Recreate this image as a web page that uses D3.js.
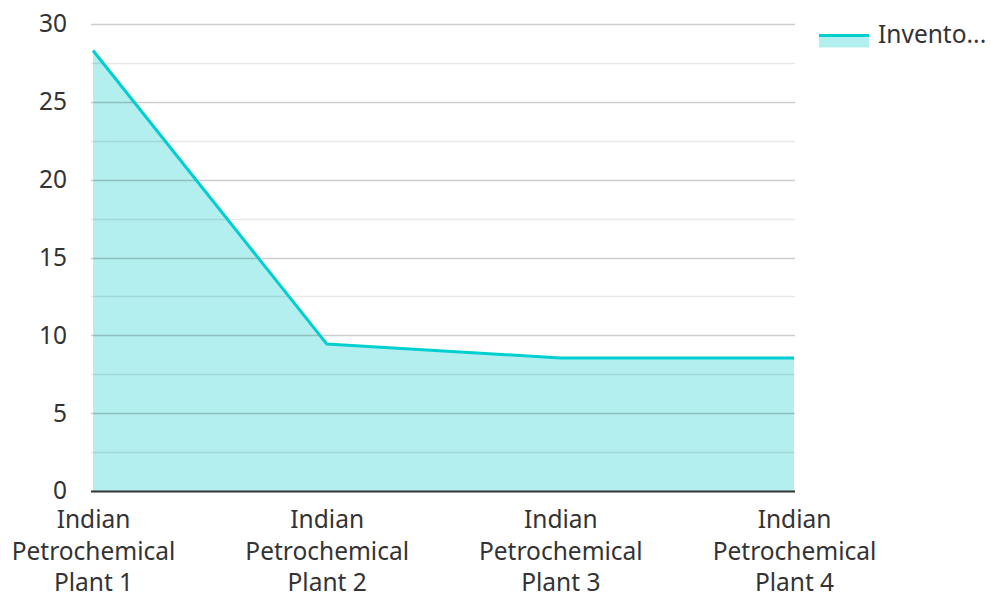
<!DOCTYPE html>
<html>
<head>
<meta charset="utf-8">
<script src="https://cdn.jsdelivr.net/npm/d3@7/dist/d3.min.js"></script>
<style>
  html, body { margin: 0; padding: 0; background: #fff; }
  svg { display: block; font-family: "Noto Sans", "Open Sans", sans-serif; }
</style>
</head>
<body>
<svg id="chart" width="991" height="595"></svg>
<script>
// Inventory per plant
const categories = ["Indian Petrochemical Plant 1", "Indian Petrochemical Plant 2", "Indian Petrochemical Plant 3", "Indian Petrochemical Plant 4"];
const categoryLines = [
  ["Indian", "Petrochemical", "Plant 1"],
  ["Indian", "Petrochemical", "Plant 2"],
  ["Indian", "Petrochemical", "Plant 3"],
  ["Indian", "Petrochemical", "Plant 4"]
];
const inventory = [28.3, 9.45, 8.55, 8.55];
const yTicks = [0, 5, 10, 15, 20, 25, 30];
const yMinorTicks = [2.5, 7.5, 12.5, 17.5, 22.5, 27.5];
const seriesName = "Invento...";

const svg = d3.select("#chart");
const plotLeft = 93, plotRight = 794, plotTop = 24, plotBottom = 491;
const fontSize = 24.5;
const fontFamily = "'Noto Sans', 'Open Sans', sans-serif";
const textColor = "#333";

const x = d3.scalePoint().domain(categories).range([plotLeft, plotRight]).padding(0);
const y = d3.scaleLinear().domain([0, 30]).range([plotBottom, plotTop]);

const lineColor = "#00cfcf";
const fillColor = "#b2efee";

// area fill
const data = categories.map((c, i) => ({ c, v: inventory[i] }));
svg.append("path")
  .datum(data)
  .attr("fill", fillColor)
  .attr("d", d3.area().x(d => x(d.c)).y0(y(0)).y1(d => y(d.v)));

// gridlines over the fill
const grid = svg.append("g");
grid.selectAll("line.minor").data(yMinorTicks).join("line")
  .attr("x1", 91).attr("x2", 795)
  .attr("y1", d => Math.round(y(d)) + 0.5).attr("y2", d => Math.round(y(d)) + 0.5)
  .attr("stroke", "#000").attr("stroke-opacity", 0.09).attr("stroke-width", 1.3);
grid.selectAll("line.major").data(yTicks.filter(d => d > 0)).join("line")
  .attr("x1", 91).attr("x2", 795)
  .attr("y1", d => Math.round(y(d)) + 0.5).attr("y2", d => Math.round(y(d)) + 0.5)
  .attr("stroke", "#000").attr("stroke-opacity", 0.2).attr("stroke-width", 1.3);

// series line
svg.append("path")
  .datum(data)
  .attr("fill", "none")
  .attr("stroke", lineColor)
  .attr("stroke-width", 3)
  .attr("stroke-linejoin", "round")
  .attr("d", d3.line().x(d => x(d.c)).y(d => y(d.v)));

// baseline
svg.append("line")
  .attr("x1", 91).attr("x2", 795)
  .attr("y1", y(0) + 0.5).attr("y2", y(0) + 0.5)
  .attr("stroke", "#333").attr("stroke-width", 2);

// y axis labels
const yAxis = d3.axisLeft(y).tickValues(yTicks).tickSize(0).tickPadding(0);
const yg = svg.append("g").attr("transform", "translate(67,0)").call(yAxis);
yg.select(".domain").remove();
yg.selectAll("text")
  .attr("font-size", fontSize)
  .attr("fill", textColor)
  .attr("font-family", fontFamily);

// x axis labels (wrapped)
const xAxis = d3.axisBottom(x).tickSize(0).tickFormat(() => "");
const xg = svg.append("g").attr("transform", `translate(0,${plotBottom})`).call(xAxis);
xg.select(".domain").remove();
xg.selectAll(".tick").each(function(d, i) {
  const t = d3.select(this).select("text").text(null)
    .attr("y", 0).attr("dy", null)
    .attr("font-size", fontSize).attr("fill", textColor)
    .attr("font-family", fontFamily);
  categoryLines[i].forEach((ln, k) => {
    t.append("tspan").attr("x", 0).attr("y", 37 + k * 31.5).text(ln);
  });
});

// legend
const lg = svg.append("g").attr("transform", "translate(819,33)");
lg.append("rect").attr("x", 0).attr("y", 2).attr("width", 50).attr("height", 12.5).attr("fill", fillColor);
lg.append("line").attr("x1", 0).attr("x2", 50).attr("y1", 2.5).attr("y2", 2.5)
  .attr("stroke", lineColor).attr("stroke-width", 3.2);
lg.append("text").attr("x", 59).attr("y", 10).attr("font-size", fontSize).attr("fill", textColor)
  .attr("font-family", fontFamily)
  .text(seriesName);
</script>
</body>
</html>
